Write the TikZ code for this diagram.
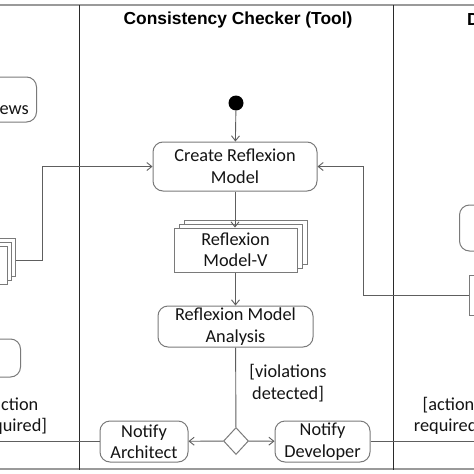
\documentclass[tikz,border=0pt]{standalone}
\usepackage{fontspec}
\setmainfont{Carlito}
\newfontfamily\hdrfont{Liberation Sans}
\usetikzlibrary{arrows.meta,shapes.geometric}
\definecolor{boxc}{HTML}{7A7A7A}
\definecolor{connc}{HTML}{5E5E5E}
\definecolor{lanec}{HTML}{2A2A2A}
\definecolor{borderc}{HTML}{9A9A9A}
\definecolor{txtc}{HTML}{141414}
\tikzset{
  txt/.style={font=\fontsize{18.3}{21.5}\selectfont, text=txtc},
  act/.style={txt, draw=boxc, line width=1pt, rounded corners=10pt, fill=white, align=center, inner sep=0pt},
  obj/.style={txt, draw=boxc, line width=1pt, fill=white, align=center, inner sep=0pt},
  conn/.style={draw=connc, line width=0.9pt},
  arr/.style={conn, -{Straight Barb[length=5pt,width=8pt]}},
  lbl/.style={txt, align=center, inner sep=0pt},
  hdr/.style={font=\hdrfont\bfseries\fontsize{17.4}{20}\selectfont, text=black, inner sep=0pt},
}
\begin{document}
\begin{tikzpicture}[x=1pt,y=-1pt]
\useasboundingbox (0,0) rectangle (474,474);
\clip (0,0) rectangle (474,474);
\fill[white] (0,0) rectangle (474,474);

% frame and lanes
\draw[borderc, line width=1.2pt] (-5,5) -- (480,5);
\draw[borderc, line width=2pt] (-5,469) -- (480,469);
\draw[lanec, line width=0.9pt] (79,5) -- (79,470);
\draw[lanec, line width=0.9pt] (393,5) -- (393,470);

% headers
\node[hdr] (hdrC) at (238,20) {Consistency Checker (Tool)};
\node[hdr, anchor=west] (hdrR) at (467,20) {D};

% middle lane
\node[circle, fill=black, minimum size=15pt, inner sep=0pt] (init) at (236,103) {};
\node[act, minimum width=164pt, minimum height=49pt] (create) at (235,166.5) {Create Reflexion\\Model};

\node[obj, minimum width=123pt, minimum height=44pt] (rmvB) at (245.5,242) {};
\node[obj, minimum width=123pt, minimum height=44pt] (rmvM) at (240.5,246) {};
\node[obj, minimum width=123pt, minimum height=44pt] (rmv) at (235.5,250) {Reflexion\\Model-V};

\node[act, minimum width=155pt, minimum height=41pt] (anal) at (235.5,326.5) {Reflexion Model\\Analysis};

\node[diamond, draw=boxc, line width=1pt, fill=white, minimum width=25pt, minimum height=27pt, inner sep=0pt] (dec) at (236,441) {};

\node[act, minimum width=88pt, minimum height=41pt] (notA) at (144,441.5) {Notify\\Architect};
\node[act, minimum width=95pt, minimum height=41pt] (notD) at (322.5,441.5) {Notify\\Developer};

\node[lbl] (viol) at (288,383) {[violations\\detected]};

% left lane
\node[act, minimum width=100pt, minimum height=45pt, anchor=east] (l1) at (37,99.5) {};
\node[lbl, anchor=east] (l1t) at (29,110) {ews};
\node[obj, minimum width=70pt, minimum height=38pt, anchor=east] (lsB) at (16,257) {};
\node[obj, minimum width=70pt, minimum height=38pt, anchor=east] (lsM) at (12,261) {};
\node[obj, minimum width=70pt, minimum height=38pt, anchor=east] (lsF) at (8,265) {};
\node[act, minimum width=80pt, minimum height=38pt, anchor=east] (l2) at (21,358) {};
\node[lbl] (lact) at (12.5,416) {[action\\required]};

% right lane
\node[act, minimum width=80pt, minimum height=46pt, anchor=west] (r1) at (459,228) {};
\node[obj, minimum width=80pt, minimum height=40pt, anchor=west] (r2) at (469,295) {};
\node[lbl] (ract) at (448.5,416) {[action\\required]};

\coordinate (lEnd) at (-8,441);
\coordinate (rEnd) at (482,441);

% connectors
\draw[arr] (init) -- (create);
\draw[arr] (create) -- (rmv.north -| create.south);
\draw[arr] (rmv) -- (anal.north -| rmv.south);
\draw[conn] (anal) -- (dec);
\draw[arr] (dec) -- (notA);
\draw[arr] (dec) -- (notD);
\draw[conn] (notD.east |- dec) -- (rEnd);
\draw[conn] (notA.west |- dec) -- (lEnd);
\draw[arr] ([yshift=-3pt]lsB.east) -- ++(26,0) |- (create.west);
\draw[arr] (r2.west) -- ++(-106,0) |- (create.east);
\end{tikzpicture}
\end{document}
